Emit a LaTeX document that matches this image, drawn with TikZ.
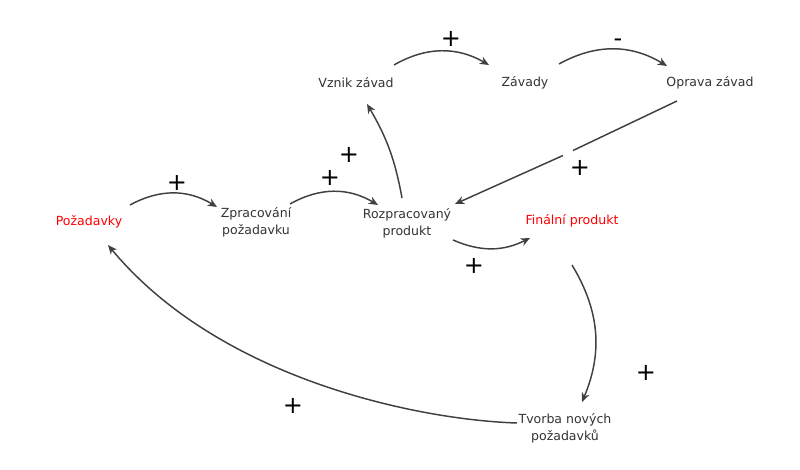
\documentclass[tikz,border=0pt]{standalone}
\usepackage{fontspec}
\setmainfont{DejaVu Sans}
\usetikzlibrary{arrows.meta}
\definecolor{txt}{HTML}{333333}
\definecolor{ln}{HTML}{404040}
\definecolor{redtxt}{HTML}{FF0000}
\tikzset{
  var/.style={inner sep=0pt, align=center, text=txt, font=\fontsize{9.4}{12.5}\selectfont},
  redvar/.style={var, text=redtxt},
  link/.style={draw=ln, line width=1.1pt, -{Stealth[length=7pt,width=6pt]}},
  linkplain/.style={draw=ln, line width=1.1pt},
  sign/.style={inner sep=0pt, font=\fontsize{18}{18}\selectfont, text=black}
}
\begin{document}
\begin{tikzpicture}[x=0.75pt,y=-0.75pt]
\useasboundingbox (0,0) rectangle (800,470);
% variables
\node[redvar] (pozad) at (89,222) {Požadavky};
\node[var] (zprac) at (256,222) {Zpracování\\požadavku};
\node[var] (rozp) at (407,223) {Rozpracovaný\\produkt};
\node[redvar] (final) at (572,221) {Finální produkt};
\node[var] (vznik) at (356,83) {Vznik závad};
\node[var] (zavady) at (525,83) {Závady};
\node[var] (oprava) at (710,83) {Oprava závad};
\node[var] (tvorba) at (565,428) {Tvorba nových\\požadavků};
% links
\draw[link] ([shift={(41,-17)}]pozad.center) to[bend left=30] ([shift={(-39,-15)}]zprac.center);
\draw[link] ([shift={(34,-18)}]zprac.center) to[bend left=30] ([shift={(-29,-18)}]rozp.center);
\draw[link] ([shift={(-5,-25)}]rozp.center) to[bend right=10] ([shift={(11,21)}]vznik.center);
\draw[link] ([shift={(38,-18)}]vznik.center) to[bend left=30] ([shift={(-36,-18)}]zavady.center);
\draw[link] ([shift={(34,-19)}]zavady.center) to[bend left=30] ([shift={(-43,-17)}]oprava.center);
\coordinate (gapA) at (573,150.5);
\coordinate (gapB) at (563,155.5);
\draw[linkplain] ([shift={(-33,18)}]oprava.center) -- (gapA);
\draw[link] (gapB) -- ([shift={(48,-19)}]rozp.center);
\draw[link] ([shift={(46,17)}]rozp.center) to[bend right=25] ([shift={(-42,17)}]final.center);
\draw[link] ([shift={(0,44)}]final.center) to[bend left=27] ([shift={(17,-26)}]tvorba.center);
\draw[link] ([shift={(-48,-5)}]tvorba.center) .. controls (420,420) and (220,380) .. ([shift={(19,23)}]pozad.center);
% signs
\node[sign] (s1) at (177,183) {+};
\node[sign] (s2) at (330,178) {+};
\node[sign] (s3) at (349,155) {+};
\node[sign] (s4) at (451,39) {+};
\node[sign] (s5) at (618,43) {-};
\node[sign] (s6) at (580,168) {+};
\node[sign] (s7) at (474,266) {+};
\node[sign] (s8) at (646,373) {+};
\node[sign] (s9) at (293,406) {+};
\end{tikzpicture}
\end{document}
